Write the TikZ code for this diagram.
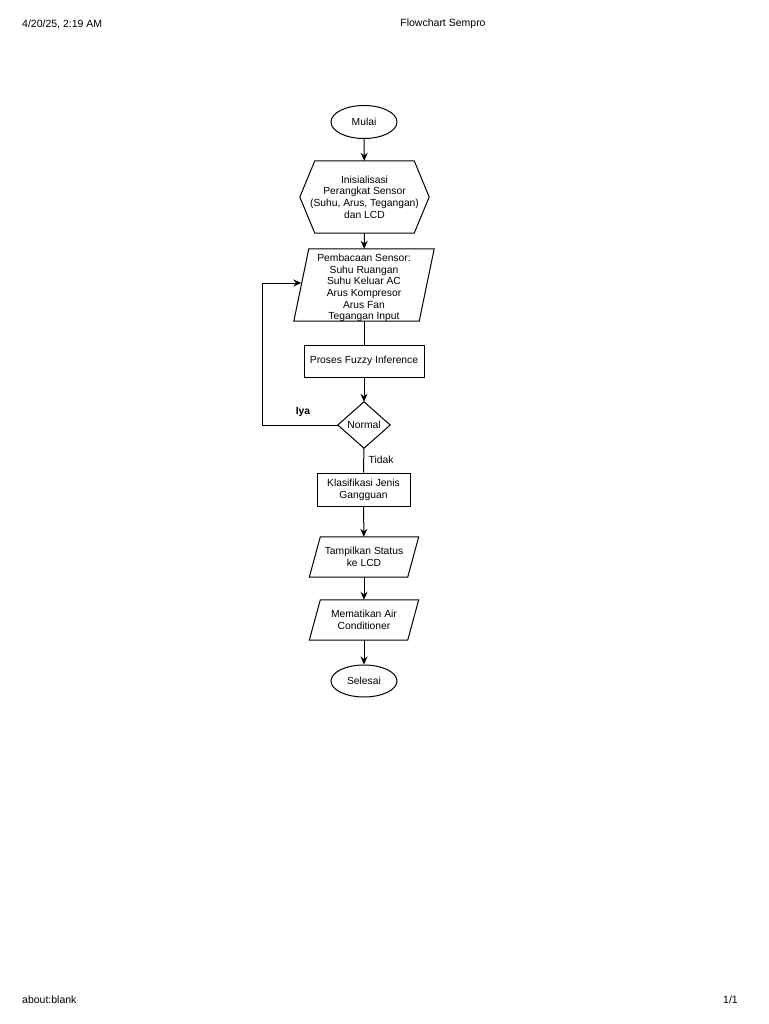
\documentclass[tikz,border=0pt]{standalone}
\usepackage{fontspec}
\setmainfont{Liberation Sans}
\usetikzlibrary{shapes.geometric,arrows.meta}
\begin{document}
\begin{tikzpicture}[x=1pt,y=-1pt,
  txt/.style={font=\fontsize{10.3}{11.7}\selectfont, align=center, inner sep=0pt},
  term/.style={txt, draw, ellipse, line width=1pt, minimum width=66pt, minimum height=33pt},
  procbox/.style={txt, draw, rectangle, line width=1pt},
  frame/.style={txt, rectangle, draw=none},
  shp/.style={line width=1pt},
  ln/.style={line width=1pt},
  arr/.style={line width=1pt, -{Stealth[length=8pt,width=7pt]}},
  hdr/.style={font=\fontsize{10.5}{12}\selectfont, inner sep=0pt}]
\useasboundingbox (0,0) rectangle (768,1024);
\fill[white] (0,0) rectangle (768,1024);
% header / footer
\node[hdr, anchor=west] (h1) at (22,24) {4/20/25, 2:19 AM};
\node[hdr] (h2) at (443,24) {Flowchart Sempro};
\node[hdr, anchor=west] (f1) at (22,1000) {about:blank};
\node[hdr, anchor=east] (f2) at (738,1000) {1/1};
% nodes
\node[term] (mulai) at (364,122) {Mulai};
\node[frame, minimum width=129pt, minimum height=72pt] (init) at (364.5,197) {Inisialisasi\\Perangkat Sensor\\(Suhu, Arus, Tegangan)\\dan LCD};
\draw[shp] (init.west) -- ([xshift=15pt]init.north west) -- ([xshift=-15pt]init.north east) -- (init.east) -- ([xshift=-15pt]init.south east) -- ([xshift=15pt]init.south west) -- cycle;
\node[frame, minimum width=125pt, minimum height=72pt] (baca) at (364,285) {};
\node[txt] (bacatxt) at (364,288) {Pembacaan Sensor:\\Suhu Ruangan\\Suhu Keluar AC\\Arus Kompresor\\Arus Fan\\Tegangan Input};
\draw[shp] ([xshift=7.5pt]baca.north west) -- ([xshift=7.5pt]baca.north east) -- ([xshift=-7.5pt]baca.south east) -- ([xshift=-7.5pt]baca.south west) -- cycle;
\node[procbox, minimum width=120pt, minimum height=32pt] (fuzzy) at (364,361) {Proses Fuzzy Inference};
\node[frame, minimum width=52pt, minimum height=46pt] (normal) at (364,425) {Normal};
\draw[shp] (normal.west) -- (normal.north) -- (normal.east) -- (normal.south) -- cycle;
\node[procbox, minimum width=93pt, minimum height=33pt] (klas) at (363.5,489.5) {Klasifikasi Jenis\\Gangguan};
\node[frame, minimum width=98pt, minimum height=40pt] (tampil) at (364,557) {Tampilkan Status\\ke LCD};
\draw[shp] ([xshift=5.5pt]tampil.north west) -- ([xshift=5.5pt]tampil.north east) -- ([xshift=-5.5pt]tampil.south east) -- ([xshift=-5.5pt]tampil.south west) -- cycle;
\node[frame, minimum width=98pt, minimum height=40pt] (matikan) at (364,620) {Mematikan Air\\Conditioner};
\draw[shp] ([xshift=5.5pt]matikan.north west) -- ([xshift=5.5pt]matikan.north east) -- ([xshift=-5.5pt]matikan.south east) -- ([xshift=-5.5pt]matikan.south west) -- cycle;
\node[term, minimum height=32pt] (selesai) at (364,681) {Selesai};
% connectors
\draw[arr] (mulai) -- (init);
\draw[arr] (init) -- (baca);
\draw[ln] (baca) -- (fuzzy);
\draw[arr] (fuzzy) -- (normal);
\coordinate (lp) at (262,425);
\draw[arr] (normal.west) -- (lp) |- ([yshift=2pt]baca.west);
\node[txt, font=\fontsize{10.3}{11}\selectfont\bfseries] (iya) at (303,412) {Iya};
\draw[ln] (normal) -- (klas);
\node[txt] (tidak) at (381,460) {Tidak};
\draw[arr] (klas) -- (tampil);
\draw[arr] (tampil) -- (matikan);
\draw[arr] (matikan) -- (selesai);
\end{tikzpicture}
\end{document}
